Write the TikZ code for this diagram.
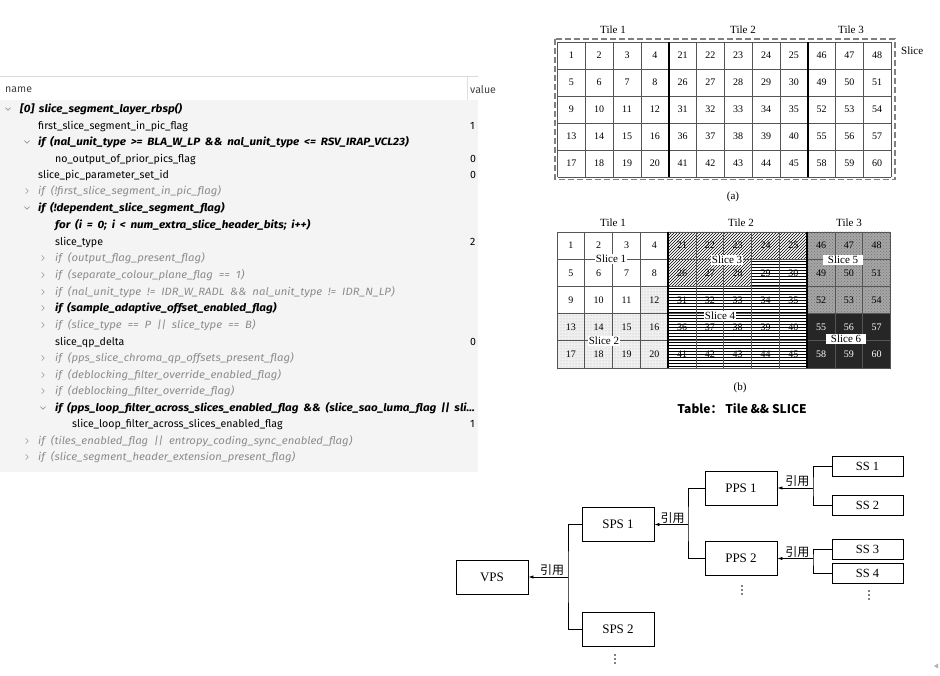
\documentclass[tikz,border=0pt]{standalone}
\usepackage{fontspec}
\setmainfont{Liberation Serif}
\setsansfont{Fira Sans}
\newfontfamily\cjk{Noto Sans CJK SC}
\newfontfamily\synslant[FakeStretch=1.07, WordSpace=2]{Fira Sans Italic}
\newfontfamily\synbold[FakeStretch=1.1, WordSpace=1.8]{Fira Sans Bold Italic}
\usetikzlibrary{arrows.meta,patterns}
\newcommand\syn[1]{\detokenize{#1}}
\definecolor{panelbg}{HTML}{F4F4F4}
\definecolor{dimtext}{HTML}{8C8C8C}
\definecolor{gridline}{HTML}{555555}
\tikzset{
  field/.style={anchor=west, inner sep=0pt, font=\sffamily\fontsize{10.6}{11}\selectfont},
  cond/.style={field, font=\synbold\fontsize{10.6}{11}\selectfont},
  folded/.style={field, text=dimtext, font=\synslant\fontsize{10.6}{11}\selectfont},
  pics/chevopen/.style={code={\draw[gray, line width=0.6pt] (-2.6,-1.3) -- (0,1.3) -- (2.6,-1.3);}},
  pics/chevshut/.style={code={\draw[gray!80, line width=0.6pt] (-1.3,-2.6) -- (1.3,0) -- (-1.3,2.6);}},
  pics/threedots/.style={code={\foreach \d in {-4,0,4} \fill (0,\d) circle (0.9pt);}},
  cellnum/.style={font=\fontsize{10}{11}\selectfont, inner sep=0pt},
  tilelabel/.style={font=\fontsize{11}{12}\selectfont, inner sep=0pt},
  slicetag/.style={fill=white, inner sep=1pt, font=\fontsize{11}{12}\selectfont},
  psbox/.style={draw, line width=0.9pt, minimum width=72pt, minimum height=34pt, inner sep=0pt, font=\fontsize{13}{14}\selectfont},
  ssbox/.style={psbox, minimum width=71pt, minimum height=20pt, font=\fontsize{12.5}{13}\selectfont},
  refer/.style={-{Latex[length=5pt,width=3.5pt]}, line width=0.8pt},
  reftext/.style={font=\cjk\fontsize{12}{13}\selectfont, inner sep=1pt, above}
}
\begin{document}
\begin{tikzpicture}[x=1pt, y=-1pt]
  \useasboundingbox (0,0) rectangle (940,676);

  % Syntax panel
  \fill[panelbg] (0,100) rectangle (478,472);
  \draw[gray!30] (0,76) -- (478,76);
  \draw[gray!25] (467,76) -- (467,100);
  \node[field, text=black!75] (h-name) at (5,90) {name};
  \node[field, text=black!75] (h-value) at (470,90) {value};

  \pic (c-1) at (8,109) {chevopen};
  \node[cond] (r-1) at (20,109) {\syn{[0] slice_segment_layer_rbsp()}};
  \node[field] (r-2) at (38,126) {\syn{first_slice_segment_in_pic_flag}};
  \pic (c-3) at (27,142) {chevopen};
  \node[cond] (r-3) at (38,142) {\syn{if (nal_unit_type >= BLA_W_LP && nal_unit_type <= RSV_IRAP_VCL23)}};
  \node[field] (r-4) at (55,159) {\syn{no_output_of_prior_pics_flag}};
  \node[field] (r-5) at (38,175) {\syn{slice_pic_parameter_set_id}};
  \pic (c-6) at (27,191) {chevshut};
  \node[folded] (r-6) at (38,191) {\syn{if (!first_slice_segment_in_pic_flag)}};
  \pic (c-7) at (27,208) {chevopen};
  \node[cond] (r-7) at (38,208) {\syn{if (!dependent_slice_segment_flag)}};
  \node[cond] (r-8) at (55,225) {\syn{for (i = 0; i < num_extra_slice_header_bits; i++)}};
  \node[field] (r-9) at (55,242) {\syn{slice_type}};
  \pic (c-10) at (43,258) {chevshut};
  \node[folded] (r-10) at (55,258) {\syn{if (output_flag_present_flag)}};
  \pic (c-11) at (43,275) {chevshut};
  \node[folded] (r-11) at (55,275) {\syn{if (separate_colour_plane_flag == 1)}};
  \pic (c-12) at (43,292) {chevshut};
  \node[folded] (r-12) at (55,292) {\syn{if (nal_unit_type != IDR_W_RADL && nal_unit_type != IDR_N_LP)}};
  \pic (c-13) at (43,308) {chevshut};
  \node[cond] (r-13) at (55,308) {\syn{if (sample_adaptive_offset_enabled_flag)}};
  \pic (c-14) at (43,325) {chevshut};
  \node[folded] (r-14) at (55,325) {\syn{if (slice_type == P || slice_type == B)}};
  \node[field] (r-15) at (55,342) {\syn{slice_qp_delta}};
  \pic (c-16) at (43,358) {chevshut};
  \node[folded] (r-16) at (55,358) {\syn{if (pps_slice_chroma_qp_offsets_present_flag)}};
  \pic (c-17) at (43,375) {chevshut};
  \node[folded] (r-17) at (55,375) {\syn{if (deblocking_filter_override_enabled_flag)}};
  \pic (c-18) at (43,391) {chevshut};
  \node[folded] (r-18) at (55,391) {\syn{if (deblocking_filter_override_flag)}};
  \pic (c-19) at (43,408) {chevopen};
  \node[cond] (r-19) at (55,408) {\syn{if (pps_loop_filter_across_slices_enabled_flag && (slice_sao_luma_flag || sli...}};
  \node[field] (r-20) at (72,424) {\syn{slice_loop_filter_across_slices_enabled_flag}};
  \pic (c-21) at (27,441) {chevshut};
  \node[folded] (r-21) at (38,441) {\syn{if (tiles_enabled_flag || entropy_coding_sync_enabled_flag)}};
  \pic (c-22) at (27,457) {chevshut};
  \node[folded] (r-22) at (38,457) {\syn{if (slice_segment_header_extension_present_flag)}};

  % Values
  \foreach \y/\v [count=\k] in {126/1, 159/0, 175/0, 242/2, 342/0, 424/1}
    \node[field] (v-\k) at (470,\y) {\v};

  % Tiles, figure (a)
  \draw[gray, line width=1.4pt, dash pattern=on 6pt off 3pt] (555,39) rectangle (895,179.5);
  \foreach \i in {0,...,12}
    \draw[gridline, line width=0.8pt] (557.5+27.8*\i,42) -- (557.5+27.8*\i,177);
  \foreach \j in {0,...,5}
    \draw[gridline, line width=0.8pt] (557.5,42+27*\j) -- (891.1,42+27*\j);
  \foreach \i in {4,9}
    \draw[line width=2pt] (557.5+27.8*\i,42) -- (557.5+27.8*\i,177);
  \foreach \r in {0,...,4}
    \foreach \c in {0,...,11} {
      \pgfmathtruncatemacro\n{\c<4 ? \r*4+\c+1 : (\c<9 ? 20+\r*5+\c-3 : 45+\r*3+\c-8)}
      \node[cellnum] (a-\n) at (571.4+27.8*\c,55.5+27*\r) {\n};
    }
  \node[tilelabel] (a-tile1) at (613,30) {Tile 1};
  \node[tilelabel] (a-tile2) at (743,30) {Tile 2};
  \node[tilelabel] (a-tile3) at (851,30) {Tile 3};
  \node[tilelabel, anchor=west] (a-slice) at (901,51) {Slice};
  \node[tilelabel] (a-cap) at (733,197) {(a)};

  % Slices, figure (b)
  \fill[gray!12] (640.4,286.4) -- (668.2,286.4) -- (668.2,368) -- (557,368) -- (557,313.6) -- (640.4,313.6) -- cycle;
  \fill[pattern=dots, pattern color=gray!60] (640.4,286.4) -- (668.2,286.4) -- (668.2,368) -- (557,368) -- (557,313.6) -- (640.4,313.6) -- cycle;
  \fill[pattern=north east lines] (668.2,232) -- (807.2,232) -- (807.2,259.2) -- (751.6,259.2) -- (751.6,286.4) -- (668.2,286.4) -- cycle;
  \fill[pattern=horizontal lines] (751.6,259.2) -- (807.2,259.2) -- (807.2,368) -- (668.2,368) -- (668.2,286.4) -- (751.6,286.4) -- cycle;
  \fill[gray!70] (807.2,232) rectangle (890.6,313.6);
  \fill[pattern=crosshatch dots, pattern color=black!55] (807.2,232) rectangle (890.6,313.6);
  \fill[black!85] (807.2,313.6) rectangle (890.6,368);
  \foreach \i in {0,...,12}
    \draw[gridline, line width=0.8pt] (557+27.8*\i,232) -- (557+27.8*\i,368);
  \foreach \j in {0,...,5}
    \draw[gridline, line width=0.8pt] (557,232+27.2*\j) -- (890.6,232+27.2*\j);
  \foreach \i in {4,9}
    \draw[line width=2pt] (557+27.8*\i,232) -- (557+27.8*\i,368);
  \foreach \r in {0,...,4}
    \foreach \c in {0,...,11} {
      \pgfmathtruncatemacro\n{\c<4 ? \r*4+\c+1 : (\c<9 ? 20+\r*5+\c-3 : 45+\r*3+\c-8)}
      \pgfmathtruncatemacro\dark{(\c>8)&&(\r>2)}
      \ifnum\dark=1 \def\numcolor{white}\else\def\numcolor{black}\fi
      \node[cellnum, text=\numcolor] (b-\n) at (570.9+27.8*\c,245.6+27.2*\r) {\n};
    }
  \node[slicetag] (s-1) at (611,259) {Slice 1};
  \node[slicetag] (s-2) at (604,341) {Slice 2};
  \node[slicetag] (s-3) at (727,260) {Slice 3};
  \node[slicetag] (s-4) at (720,316) {Slice 4};
  \node[slicetag, inner xsep=5pt] (s-5) at (843,260) {Slice 5};
  \node[slicetag, inner xsep=5pt] (s-6) at (846,339) {Slice 6};
  \node[tilelabel] (b-tile1) at (613,223) {Tile 1};
  \node[tilelabel] (b-tile2) at (741,223) {Tile 2};
  \node[tilelabel] (b-tile3) at (849,223) {Tile 3};
  \node[tilelabel] (b-cap) at (740,388) {(b)};
  \node[font=\cjk\bfseries\fontsize{12}{13}\selectfont, inner sep=0pt] (title) at (742,409) {Table：\ Tile \&\& SLICE};

  % Parameter set references
  \node[psbox] (vps) at (492,577) {VPS};
  \node[psbox] (sps1) at (618,524.5) {SPS 1};
  \node[psbox] (sps2) at (618,629.5) {SPS 2};
  \node[psbox] (pps1) at (741,488) {PPS 1};
  \node[psbox] (pps2) at (741,558.5) {PPS 2};
  \node[ssbox] (ss1) at (867.5,466) {SS 1};
  \node[ssbox] (ss2) at (867.5,505.5) {SS 2};
  \node[ssbox] (ss3) at (867.5,549) {SS 3};
  \node[ssbox] (ss4) at (867.5,573.5) {SS 4};
  \pic (d-pps) at (742,590) {threedots};
  \pic (d-ss) at (869,595) {threedots};
  \pic (d-sps) at (615,659) {threedots};

  \coordinate (bus-v) at (568,577);
  \coordinate (bus-s) at (688,524.5);
  \coordinate (bus-p1) at (813,488);
  \coordinate (bus-p2) at (813,558.5);
  \draw[line width=0.8pt] (sps1.west) -| (bus-v) |- (sps2.west);
  \draw[line width=0.8pt] (pps1.west) -| (bus-s) |- (pps2.west);
  \draw[line width=0.8pt] (ss1.west) -| (bus-p1) |- (ss2.west);
  \draw[line width=0.8pt] (ss3.west) -| (bus-p2) |- (ss4.west);
  \draw[refer] (bus-v) -- node[reftext, pos=0.4] {引用} (vps.east);
  \draw[refer] (bus-s) -- node[reftext, pos=0.46] {引用} (sps1.east);
  \draw[refer] (bus-p1) -- node[reftext, pos=0.44] {引用} (pps1.east);
  \draw[refer] (bus-p2) -- node[reftext, pos=0.44] {引用} (pps2.east);

  \fill[gray!60] (934,666) -- (938,663.5) -- (938,668.5) -- cycle;
\end{tikzpicture}
\end{document}
